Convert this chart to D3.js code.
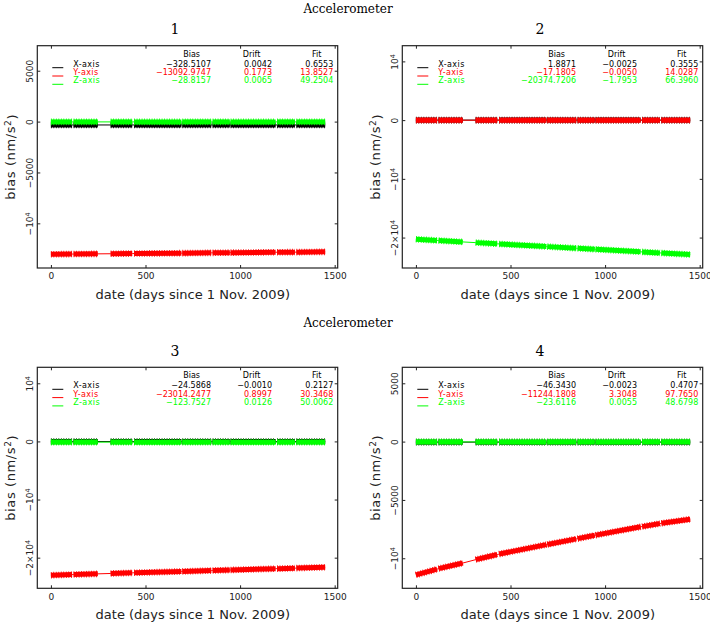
<!DOCTYPE html>
<html>
<head>
<meta charset="utf-8">
<script src="https://cdn.jsdelivr.net/npm/d3@7"></script>
<style>
  body { margin: 0; background: #fff; }
  text { font-family: "DejaVu Sans", sans-serif; }
</style>
</head>
<body>
<svg id="chart" width="710" height="623"></svg>
<script>
// days since 1 Nov. 2009 at the start / end of each data stretch
const days = [0, 112, 120, 248, 316, 430, 440, 690, 695, 848, 855, 946, 950, 1188, 1196, 1290, 1298, 1450];
// stretches with data, as index pairs into days
const stretches = [[0, 1], [2, 3], [4, 5], [6, 7], [8, 9], [10, 11], [12, 13], [14, 15], [16, 17]];

const axisNames = ["X-axis", "Y-axis", "Z-axis"];
const panelTitles = ["1", "2", "3", "4"];
const xTicks = [0, 500, 1000, 1500];
const yTicksSmall = [5000, 0, -5000, -10000];
const yTicksBig = [10000, 0, -10000, -20000];

// bias values (nm/s^2) read at each of the days above
const p1X = [-330, -330, -330, -330, -330, -330, -330, -330, -330, -330, -330, -330, -330, -330, -330, -330, -330, -330];
const p1Y = [-13040, -13020, -13020, -13000, -12990, -12970, -12970, -12930, -12930, -12900, -12900, -12880, -12880, -12840, -12840, -12830, -12830, -12800];
const p1Z = [-29, -29, -29, -29, -29, -29, -29, -29, -29, -29, -29, -29, -29, -29, -29, -29, -29, -29];

const p2X = [2, 2, 2, 2, 2, 2, 2, 2, 2, 2, 2, 2, 2, 2, 2, 2, 2, 2];
const p2Y = [-17, -17, -17, -17, -17, -17, -17, -17, -17, -17, -17, -17, -17, -17, -17, -17, -17, -17];
const p2Z = [-20290, -20490, -20510, -20740, -20860, -21070, -21080, -21530, -21540, -21820, -21830, -21990, -22000, -22430, -22440, -22610, -22630, -22900];

const p3X = [-25, -25, -25, -25, -25, -25, -25, -25, -25, -25, -25, -25, -25, -25, -25, -25, -25, -25];
const p3Y = [-23020, -22910, -22905, -22785, -22720, -22610, -22605, -22370, -22365, -22220, -22210, -22125, -22120, -21895, -21890, -21800, -21795, -21650];
const p3Z = [-124, -124, -124, -124, -124, -124, -124, -124, -124, -124, -124, -124, -124, -124, -124, -124, -124, -124];

const p4X = [-46, -46, -46, -46, -46, -46, -46, -46, -46, -46, -46, -46, -46, -46, -46, -46, -46, -46];
const p4Y = [-11430, -10930, -10890, -10410, -10120, -9680, -9640, -8830, -8815, -8340, -8320, -8030, -8020, -7305, -7285, -7020, -7000, -6650];
const p4Z = [-24, -24, -24, -24, -24, -24, -24, -24, -24, -24, -24, -24, -24, -24, -24, -24, -24, -24];

// legend table columns
const bias1 = ["\u2212328.5107", "\u221213092.9747", "\u221228.8157"];
const drift1 = ["0.0042", "0.1773", "0.0065"];
const fit1 = ["0.6553", "13.8527", "49.2504"];
const bias2 = ["1.8871", "\u221217.1805", "\u221220374.7206"];
const drift2 = ["\u22120.0025", "\u22120.0050", "\u22121.7953"];
const fit2 = ["0.3555", "14.0287", "66.3960"];
const bias3 = ["\u221224.5868", "\u221223014.2477", "\u2212123.7527"];
const drift3 = ["\u22120.0010", "0.8997", "0.0126"];
const fit3 = ["0.2127", "30.3468", "50.0062"];
const bias4 = ["\u221246.3430", "\u221211244.1808", "\u221223.6116"];
const drift4 = ["\u22120.0023", "3.3048", "0.0055"];
const fit4 = ["0.4707", "97.7650", "48.6798"];

const colors = ["#000000", "#ff0000", "#00ff00"];
const xDomain = [-72, 1516];

const svg = d3.select("#chart");

// figure titles
[12.7, 327.3].forEach(yy => {
  svg.append("text")
    .attr("x", 348).attr("y", yy)
    .attr("text-anchor", "middle")
    .style("font-family", "'DejaVu Serif', serif")
    .style("font-size", "12px")
    .text("Accelerometer");
});

function tickText(v) {
  if (v === 0) return "0";
  const s = v < 0 ? "\u2212" : "";
  const a = Math.abs(v);
  if (a === 10000) return s + "10^4";
  if (a === 20000) return s + "2\u00d710^4";
  return s + a;
}

function drawPanel(p) {
  const w = 300.4, h = p.h;
  const g = svg.append("g").attr("transform", `translate(${p.left},${p.top})`);

  const x = d3.scaleLinear().domain(xDomain).range([0, w]);
  const y = d3.scaleLinear().domain(p.yDomain).range([h, 0]);

  // title
  svg.append("text")
    .attr("x", p.left + w / 2 - 12.5).attr("y", p.top - 11.5)
    .attr("text-anchor", "middle")
    .style("font-family", "'DejaVu Serif', serif")
    .style("font-size", "14px")
    .text(p.title);

  // series: thin joining line, then thick marker band per stretch
  const line = d3.line().x(d => x(d[0])).y(d => y(d[1]));
  p.series.forEach((vals, k) => {
    const pts = days.map((d, i) => [d, vals[i]]);
    g.append("path").attr("d", line(pts))
      .attr("fill", "none").attr("stroke", colors[k]).attr("stroke-width", 1);
    stretches.forEach(([a, b]) => {
      const seg = pts.slice(a, b + 1);
      g.append("path").attr("d", line(seg))
        .attr("fill", "none").attr("stroke", colors[k]).attr("stroke-width", 5);
      g.append("path").attr("d", line(seg))
        .attr("fill", "none").attr("stroke", colors[k]).attr("stroke-width", 6.6)
        .attr("stroke-dasharray", "0.8 1.7");
    });
  });

  // axes, ticks pointing inwards
  const axCol = "#222";
  const gb = g.append("g").attr("transform", `translate(0,${h})`)
    .call(d3.axisBottom(x).tickValues(xTicks).tickSize(-3).tickPadding(5).tickFormat(d3.format("d")));
  const gt = g.append("g")
    .call(d3.axisTop(x).tickValues(xTicks).tickSize(-3).tickFormat(""));
  const gl = g.append("g")
    .call(d3.axisLeft(y).tickValues(p.yTicks).tickSize(-3).tickFormat(tickText));
  const gr = g.append("g").attr("transform", `translate(${w},0)`)
    .call(d3.axisRight(y).tickValues(p.yTicks).tickSize(-3).tickFormat(""));
  [gb, gt, gl, gr].forEach(a => {
    a.attr("color", axCol);
    a.select(".domain").remove();
    a.selectAll("line").attr("stroke-width", 1);
  });
  gb.selectAll("text").style("font-size", "9px").style("font-family", "'DejaVu Sans', sans-serif").attr("fill", "#222");

  gl.selectAll(".tick text").each(function () {
    const t = d3.select(this);
    const str = t.text();
    t.text(null)
      .attr("x", 0).attr("y", -4).attr("dy", null)
      .attr("transform", "rotate(-90)")
      .attr("text-anchor", "middle")
      .attr("fill", "#222")
      .style("font-size", "9px")
      .style("font-family", "'DejaVu Sans', sans-serif");
    const parts = str.split("^");
    t.append("tspan").text(parts[0]);
    if (parts.length > 1) {
      t.append("tspan").attr("dy", "-0.5em").style("font-size", "6.5px").text(parts[1]);
    }
  });

  // frame
  g.append("rect").attr("width", w).attr("height", h)
    .attr("fill", "none").attr("stroke", axCol).attr("stroke-width", 1.2);

  // axis titles
  svg.append("text")
    .attr("x", p.left + x(750)).attr("y", p.top + h + 31)
    .attr("text-anchor", "middle")
    .style("font-size", "13px").attr("fill", "#222")
    .text("date (days since 1 Nov. 2009)");
  const yl = svg.append("text")
    .attr("transform", `translate(${p.left - 22},${p.top + h / 2}) rotate(-90)`)
    .attr("text-anchor", "middle")
    .style("font-size", "13px").style("letter-spacing", "0.6px").attr("fill", "#222");
  yl.append("tspan").text("bias (nm/s");
  yl.append("tspan").attr("dy", "-0.45em").style("font-size", "9px").text("2");
  yl.append("tspan").attr("dy", "0.45em").text(")");

  // legend table
  const fs = "8px";
  const heads = [["Bias", 154.3], ["Drift", 214.3], ["Fit", 279.3]];
  heads.forEach(([s, dx]) => {
    g.append("text").attr("x", dx).attr("y", 11)
      .attr("text-anchor", "middle").style("font-size", fs).attr("fill", "#000").text(s);
  });
  axisNames.forEach((nm, k) => {
    const by = 21 + k * 8.3;
    g.append("line").attr("x1", 15).attr("x2", 26).attr("y1", by + 1).attr("y2", by + 1)
      .attr("stroke", colors[k]).attr("stroke-width", 1);
    g.append("text").attr("x", 36).attr("y", by)
      .style("font-size", fs).style("letter-spacing", "0.4px").attr("fill", colors[k]).text(nm);
    [[p.bias, 173.7], [p.drift, 234.7], [p.fit, 296]].forEach(([col, dx]) => {
      g.append("text").attr("x", dx).attr("y", by)
        .attr("text-anchor", "end").style("font-size", fs).attr("fill", colors[k]).text(col[k]);
    });
  });
}

drawPanel({ title: panelTitles[0], left: 37.3, top: 45.7, h: 222.3, yDomain: [-14390, 7460], yTicks: yTicksSmall,
  series: [p1X, p1Y, p1Z], bias: bias1, drift: drift1, fit: fit1 });
drawPanel({ title: panelTitles[1], left: 402.3, top: 45.7, h: 222.3, yDomain: [-25180, 12670], yTicks: yTicksBig,
  series: [p2X, p2Y, p2Z], bias: bias2, drift: drift2, fit: fit2 });
drawPanel({ title: panelTitles[2], left: 37.3, top: 367.3, h: 221, yDomain: [-25270, 12750], yTicks: yTicksBig,
  series: [p3X, p3Y, p3Z], bias: bias3, drift: drift3, fit: fit3 });
drawPanel({ title: panelTitles[3], left: 402.3, top: 367.3, h: 221, yDomain: [-12575, 6370], yTicks: yTicksSmall,
  series: [p4X, p4Y, p4Z], bias: bias4, drift: drift4, fit: fit4 });
</script>
</body>
</html>
